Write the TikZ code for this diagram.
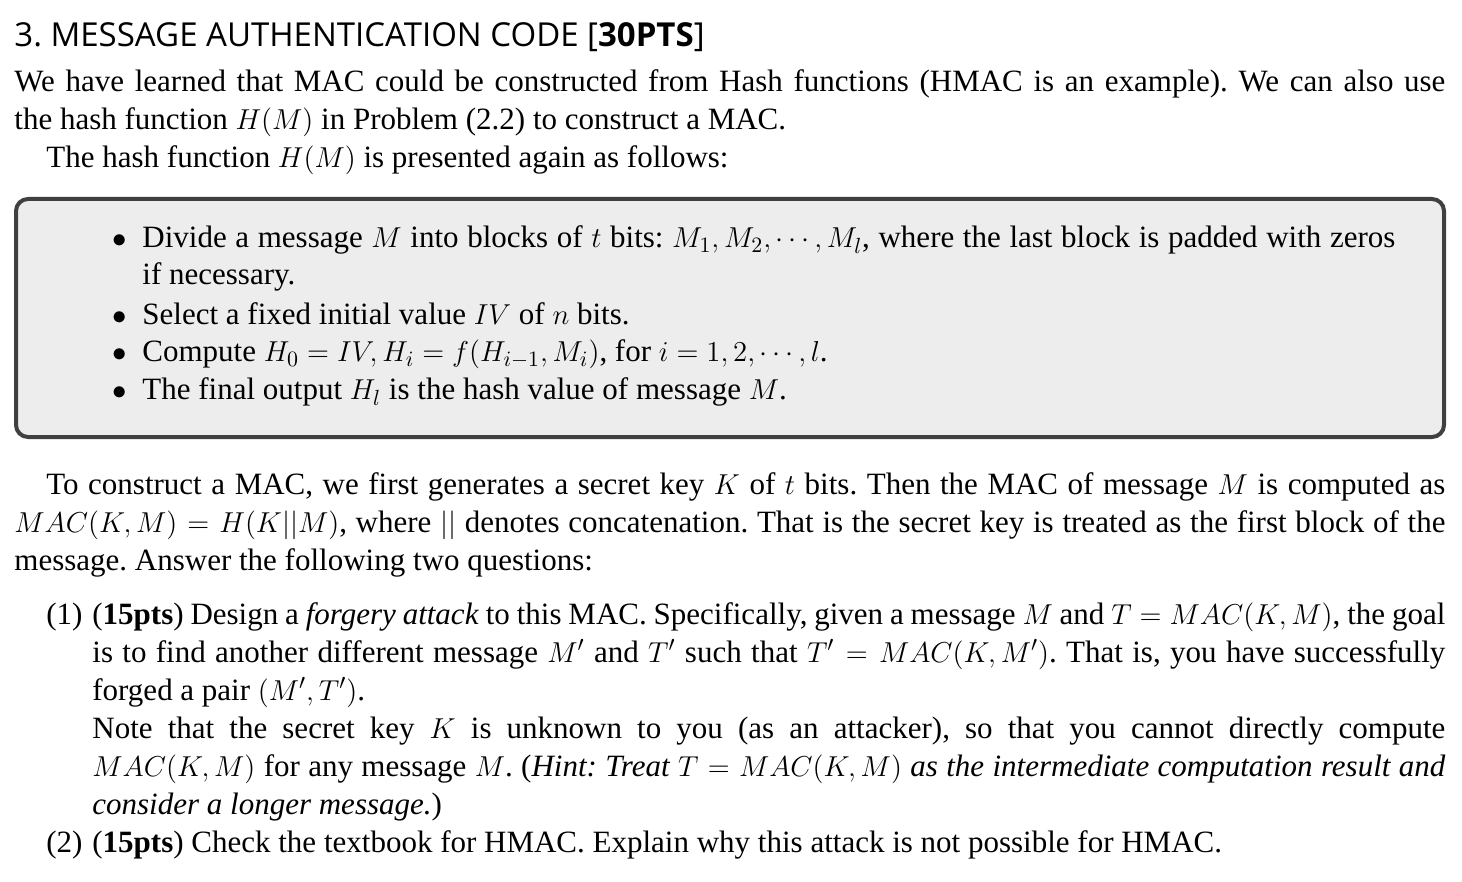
\documentclass[tikz,border=0pt]{standalone}
\usepackage{fontspec}
\setmainfont{Liberation Serif}
\newfontfamily\headfont{Open Sans}
\frenchspacing
\begin{document}
\begin{tikzpicture}[x=0.5pt,y=-0.5pt,
  ln/.style={anchor=base west,inner sep=0pt,font=\fontsize{15.5}{19}\selectfont}]
\useasboundingbox (0,0) rectangle (1462,882);
\node[ln,font=\headfont\fontsize{16.5}{19}\selectfont] (h) at (14,47) {3. MESSAGE AUTHENTICATION CODE [\textbf{30PTS}]};
\node[ln] (p1) at (14,92) {\makebox[715.5pt][s]{We have learned that MAC could be constructed from Hash functions (HMAC is an example). We can also use}};
\node[ln] (p2) at (14,130) {the hash function $H(M)$ in Problem (2.2) to construct a MAC.};
\node[ln] (p3) at (46,168) {The hash function $H(M)$ is presented again as follows:};
\draw[line width=2pt,draw=black!75,fill=black!7,rounded corners=6pt] (16,199) rectangle (1444,437);
\foreach \y in {248,324,362,400} \node[ln] at (112,\y) {$\bullet$};
\node[ln] (b1) at (142,248) {\makebox[626.5pt][s]{Divide a message $M$ into blocks of $t$ bits: $M_1,M_2,\cdots,M_l$, where the last block is padded with zeros}};
\node[ln] (b1b) at (142,285) {if necessary.};
\node[ln] (b2) at (142,324) {Select a fixed initial value $IV$ of $n$ bits.};
\node[ln] (b3) at (142,362) {Compute $H_0=IV, H_i=f(H_{i-1},M_i)$, for $i=1,2,\cdots,l$.};
\node[ln] (b4) at (142,400) {The final output $H_l$ is the hash value of message $M$.};
\node[ln] (q1) at (46,494) {\makebox[699.5pt][s]{To construct a MAC, we first generates a secret key $K$ of $t$ bits. Then the MAC of message $M$ is computed as}};
\node[ln] (q2) at (14,532) {\makebox[715.5pt][s]{$MAC(K,M)=H(K||M)$, where $||$ denotes concatenation. That is the secret key is treated as the first block of the}};
\node[ln] (q3) at (14,570) {message. Answer the following two questions:};
\node[ln] (i1) at (46,624) {(1)};
\node[ln] (i1a) at (92,624) {\makebox[676.5pt][s]{(\textbf{15pts}) Design a \textit{forgery attack} to this MAC. Specifically, given a message $M$ and $T=MAC(K,M)$, the goal}};
\node[ln] (i1b) at (92,662) {\makebox[676.5pt][s]{is to find another different message $M'$ and $T'$ such that $T'=MAC(K,M')$. That is, you have successfully}};
\node[ln] (i1c) at (92,700) {forged a pair $(M',T')$.};
\node[ln] (i1d) at (92,738) {\makebox[676.5pt][s]{Note that the secret key $K$ is unknown to you (as an attacker), so that you cannot directly compute}};
\node[ln] (i1e) at (92,776) {\makebox[676.5pt][s]{$MAC(K,M)$ for any message $M$. (\textit{Hint: Treat $T=MAC(K,M)$ as the intermediate computation result and}}};
\node[ln] (i1f) at (92,814) {\textit{consider a longer message.})};
\node[ln] (i2) at (46,852) {(2)};
\node[ln] (i2a) at (92,852) {(\textbf{15pts}) Check the textbook for HMAC. Explain why this attack is not possible for HMAC.};
\end{tikzpicture}
\end{document}
